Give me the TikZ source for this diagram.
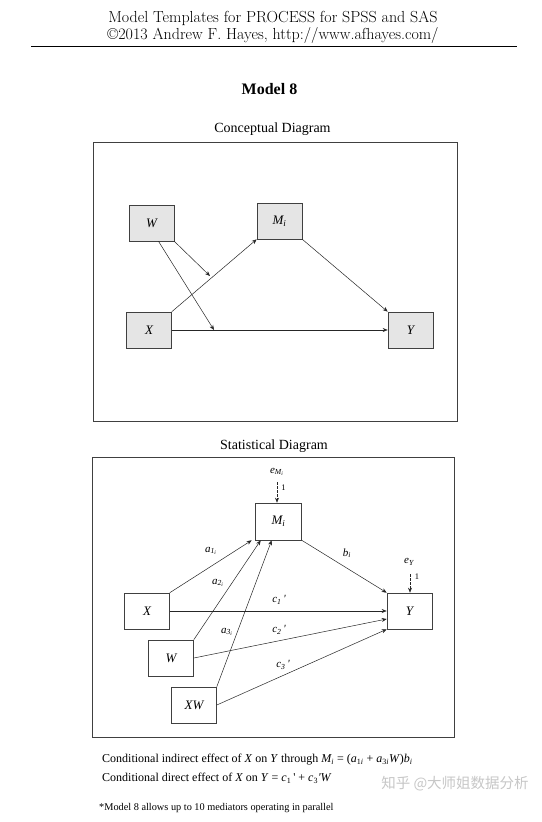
\documentclass[tikz,border=0pt]{standalone}
\usepackage{fontspec}
\setmainfont{Liberation Serif}
\newfontfamily\lmfont{Latin Modern Roman}
\newfontfamily\cjk{Noto Sans CJK SC}
\usetikzlibrary{arrows.meta, calc}
\newcommand{\subs}[1]{\textsubscript{#1}}
\newcommand{\pr}{\,\textquotesingle}

\tikzset{
  var/.style={draw=black!75, fill=black!10, line width=0.6pt, minimum width=45pt, minimum height=36pt, inner sep=0pt, font=\fontsize{13}{13}\selectfont\itshape},
  svar/.style={var, fill=white},
  path/.style={-{Stealth[length=5pt,width=4pt]}, black!85, line width=0.5pt},
  errpath/.style={path, dashed, dash pattern=on 2.5pt off 1.5pt},
  coef/.style={font=\fontsize{11}{11}\selectfont\itshape, inner sep=1pt},
  frame/.style={draw=black!75, line width=0.7pt},
  body/.style={font=\fontsize{12}{12}\selectfont, inner sep=0pt}
}

\begin{document}
\begin{tikzpicture}[x=1pt, y=-1pt]
  \useasboundingbox[fill=white] (0,0) rectangle (541,822);

  % header
  \node[inner sep=0pt, anchor=base] (head1) at (273,22) {\lmfont\fontsize{16}{16}\selectfont Model Templates for PROCESS for SPSS and SAS};
  \node[inner sep=0pt, anchor=base] (head2) at (273,39.5) {\lmfont\fontsize{16}{16}\selectfont \textcopyright2013 Andrew F. Hayes, http://www.afhayes.com/};
  \draw[line width=0.8pt] (31,46) -- (517,46);

  \node[inner sep=0pt] (title) at (269.5,89) {\fontsize{16}{16}\selectfont\bfseries Model 8};

  % conceptual diagram
  \node[inner sep=0pt, anchor=base] (ctitle) at (272.5,132) {\fontsize{14}{14}\selectfont Conceptual Diagram};
  \draw[frame] (93,142) rectangle (457,421);

  \node[var] (cW) at (151.5,223) {W};
  \node[var] (cM) at (279.5,221) {M\subs{i}};
  \node[var] (cX) at (149,330) {X};
  \node[var] (cY) at (410.5,330) {Y};
  \coordinate (onXM) at (210,276);
  \coordinate (onXY) at (214,330);

  \draw[path] (cX.north east) -- (cM.south west);
  \draw[path] (cM.south east) -- (cY.north west);
  \draw[path] (cX.east) -- (cY.west);
  \draw[path] (cW.south east) -- (onXM);
  \draw[path] ($(cW.south)+(7,0)$) -- (onXY);

  % statistical diagram
  \node[inner sep=0pt, anchor=base] (stitle) at (274,449) {\fontsize{14}{14}\selectfont Statistical Diagram};
  \draw[frame] (92,457) rectangle (454,737);

  \node[svar, minimum width=46pt, minimum height=37pt] (sM) at (278.5,521.5) {M\subs{i}};
  \node[svar] (sY) at (409.5,611) {Y};
  \node[svar] (sX) at (147,611) {X};
  \node[svar] (sW) at (171,658) {W};
  \node[svar] (sXW) at (194,705) {XW};

  \node[coef] (eM) at (277,472) {e\subs{\textit{M}\subs{\textit{i}}}};
  \node[coef] (eY) at (409,562) {e\subs{\textit{Y}}};
  \draw[errpath] (277,482) -- (sM.north -| 277,0);
  \draw[errpath] (410,574) -- (sY.north -| 410,0);
  \node[coef, font=\fontsize{8.5}{8.5}\selectfont] (oneM) at (283.5,488) {1};
  \node[coef, font=\fontsize{8.5}{8.5}\selectfont] (oneY) at (417,577) {1};

  \draw[path] (sX.north east) -- ($(sM.south west)+(-3.5,0)$);
  \draw[path] (sW.north east) -- ($(sM.south west)+(5.5,0)$);
  \draw[path] (sXW.north east) -- ($(sM.south west)+(16.5,0)$);
  \draw[path] (sM.south east) -- (sY.north west);
  \draw[path] (sX.east) -- (sY.west);
  \draw[path] (sW.east) -- ($(sY.west)+(0,8)$);
  \draw[path] (sXW.east) -- (sY.south west);

  \node[coef] (a1) at (211,551) {a\subs{1\subs{i}}};
  \node[coef] (a2) at (218,583) {a\subs{2\subs{i}}};
  \node[coef] (a3) at (227,632) {a\subs{3\subs{i}}};
  \node[coef] (b) at (347,553) {b\subs{i}};
  \node[coef] (c1) at (279,600) {c\subs{1}\pr};
  \node[coef] (c2) at (279,630) {c\subs{2}\pr};
  \node[coef] (c3) at (283,665) {c\subs{3}\pr};

  % effects
  \node[body, anchor=west] (ind) at (102,760) {Conditional indirect effect of \textit{X} on \textit{Y} through \textit{M\subs{i}} = (\textit{a}\subs{1\textit{i}} + \textit{a}\subs{3\textit{i}}\textit{W})\textit{b}\subs{\textit{i}}};
  \node[body, anchor=west] (dir) at (102,778) {Conditional direct effect of \textit{X} on \textit{Y} = \textit{c}\subs{1}\pr{} + \textit{c}\subs{3}\textit{\textquotesingle W}};
  \node[body, anchor=west, font=\fontsize{10.3}{10.3}\selectfont] (note) at (99,808) {*Model 8 allows up to 10 mediators operating in parallel};

  \node[inner sep=0pt, text=black!22] (mark) at (455,784) {\cjk\fontsize{14.5}{14.5}\selectfont 知乎 @大师姐数据分析};
\end{tikzpicture}
\end{document}
